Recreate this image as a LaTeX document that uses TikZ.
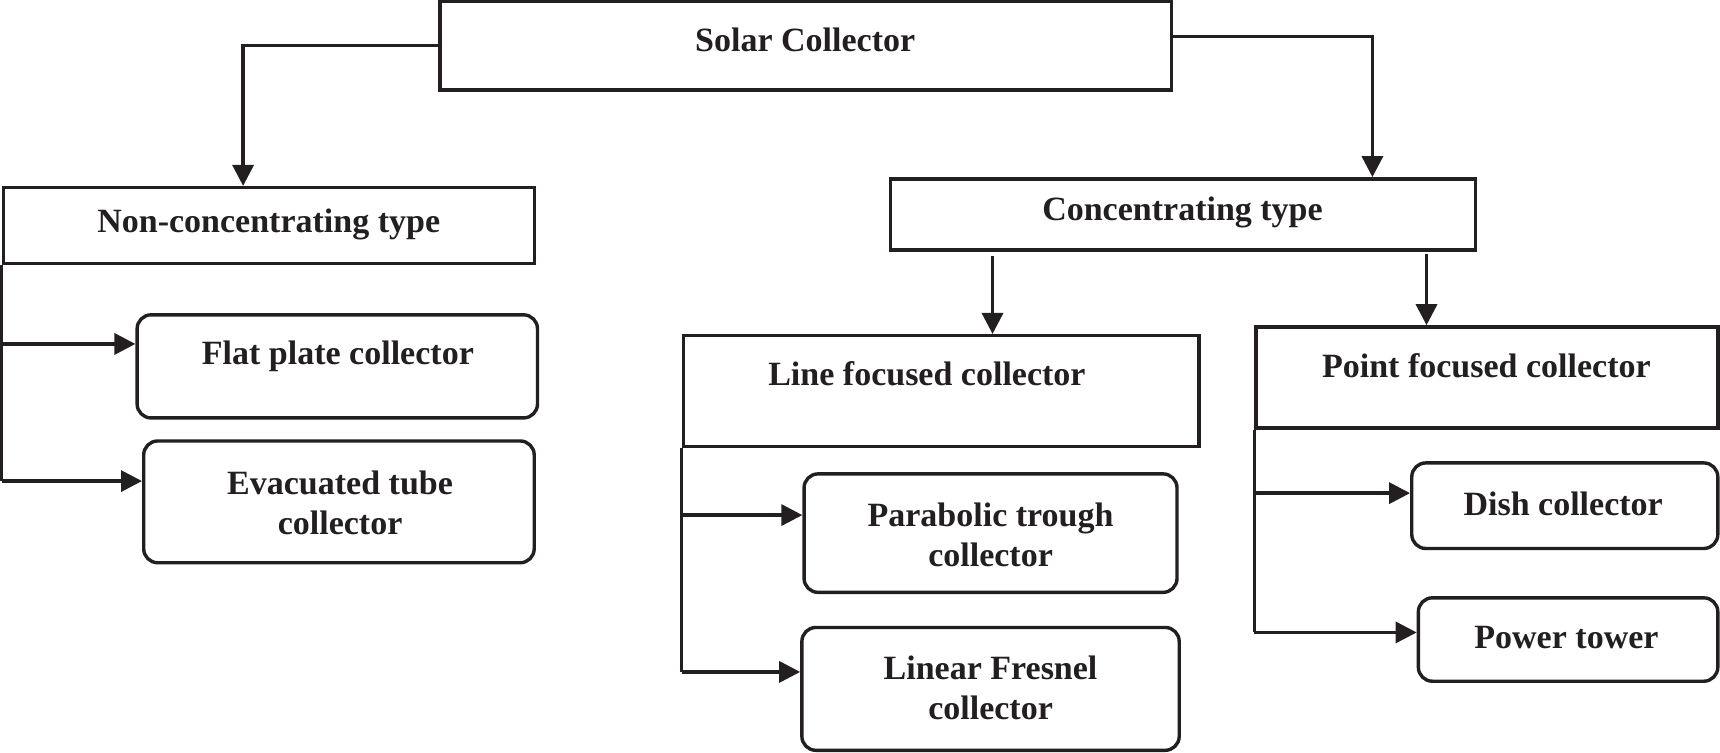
\documentclass[tikz,border=0pt]{standalone}
\usepackage{fontspec}
\setmainfont{Liberation Serif}
\usetikzlibrary{fit,calc,arrows.meta}
\definecolor{ink}{HTML}{231F20}
\begin{document}
\begin{tikzpicture}[x=0.5485pt,y=-0.5485pt,
  box/.style={draw=ink, line width=1.7pt, inner sep=0pt, fill=white},
  rbox/.style={box, rounded corners=7pt},
  txt/.style={font=\bfseries\fontsize{17}{20}\selectfont, text=ink, align=center, inner sep=0pt},
  link/.style={draw=ink, line width=1.7pt},
  arr/.style={link, -{Triangle[length=10.5pt,width=10.5pt]}}]
\useasboundingbox (0,0) rectangle (1568,686);
% boxes
\node[box, fit={(401,1.5)(1068,82)}] (sc) {};
\node[txt] (sct) at (734,36) {Solar Collector};
\node[box, fit={(3,171)(487,240)}] (nc) {};
\node[txt] (nct) at (245,205) {Non-concentrating type};
\node[box, fit={(812,163)(1345,228)}] (cf) {};
\node[txt] (cft) at (1078,194) {Concentrating type};
\node[box, fit={(623,306)(1093,407)}] (lf) {};
\node[txt] (lft) at (845,341) {Line focused collector};
\node[box, fit={(1145,298)(1566,390)}] (pf) {};
\node[txt] (pft) at (1355,333) {Point focused collector};
\node[rbox, fit={(125,287)(490,381)}] (fp) {};
\node[txt] (fpt) at (308,325) {Flat plate collector};
\node[rbox, fit={(131,402)(487,513)}] (ev) {};
\node[txt] (evt) at (310,458) {Evacuated tube\\collector};
\node[rbox, fit={(733,432)(1073,540)}] (pt) {};
\node[txt] (ptt) at (903,488) {Parabolic trough\\collector};
\node[rbox, fit={(731,572)(1075,684)}] (lfr) {};
\node[txt] (lfrt) at (903,627) {Linear Fresnel\\collector};
\node[rbox, fit={(1287,422)(1566,500)}] (dc) {};
\node[txt] (dct) at (1425,459) {Dish collector};
\node[rbox, fit={(1293,545)(1566,621)}] (pw) {};
\node[txt] (pwt) at (1428,581) {Power tower};
% top connectors
\draw[arr] (sc.west) -| ($(nc.north west)!0.452!(nc.north east)$);
\draw[arr] ($(sc.north east)!0.4!(sc.south east)$) -| ($(cf.north west)!0.822!(cf.north east)$);
\coordinate (c1) at ($(cf.south west)!0.176!(cf.south east)$);
\coordinate (c2) at ($(cf.south west)!0.914!(cf.south east)$);
\draw[arr] ([yshift=-2pt]c1) -- (c1 |- lf.north);
\draw[arr] ([yshift=-1pt]c2) -- (c2 |- pf.north);
% trunks
\path (nc.south west) ++(0,72) coordinate (j1);
\path (nc.south west) ++(0,197) coordinate (j2);
\path (lf.south west) ++(0,61) coordinate (j3);
\path (lf.south west) ++(0,204) coordinate (j4);
\path (pf.south west) ++(0,58) coordinate (j5);
\path (pf.south west) ++(0,185) coordinate (j6);
\draw[link] (nc.south west) -- (j2);
\draw[arr] (j1) -- (fp.west |- j1);
\draw[arr] (j2) -- (ev.west |- j2);
\draw[link] (lf.south west) -- (j4);
\draw[arr] (j3) -- (pt.west |- j3);
\draw[arr] (j4) -- (lfr.west |- j4);
\draw[link] (pf.south west) -- (j6);
\draw[arr] (j5) -- (dc.west |- j5);
\draw[arr] (j6) -- (pw.west |- j6);
\end{tikzpicture}
\end{document}
